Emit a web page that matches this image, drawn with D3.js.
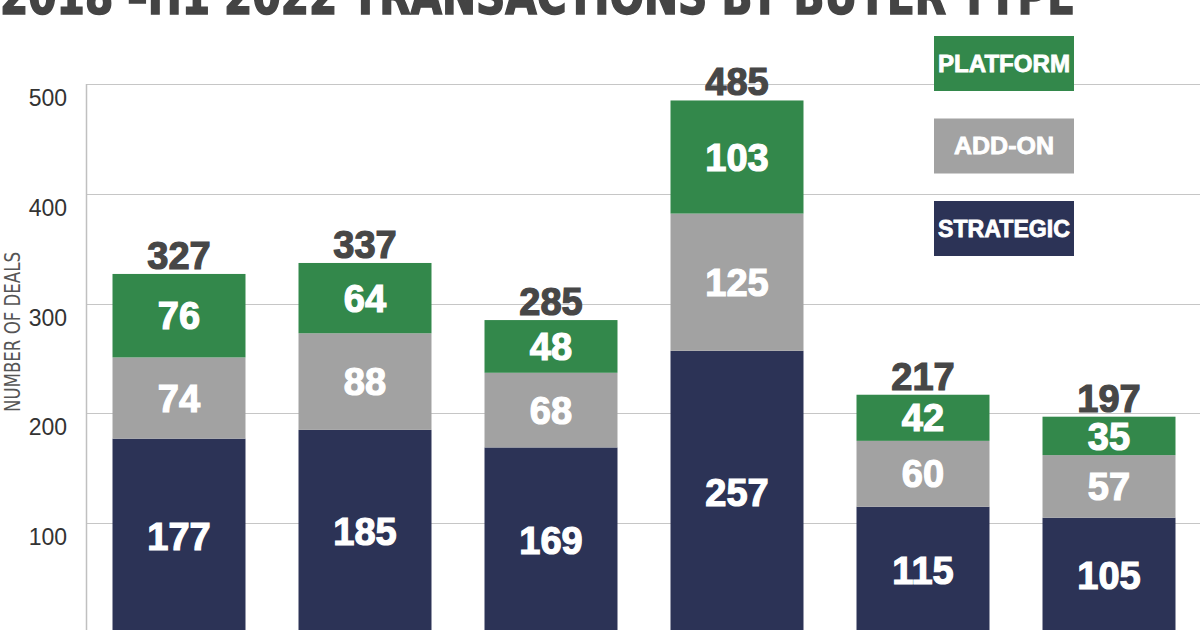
<!DOCTYPE html>
<html>
<head>
<meta charset="utf-8">
<script src="https://cdn.jsdelivr.net/npm/d3@7"></script>
<style>
  html, body { margin: 0; padding: 0; background: #ffffff; }
  svg { display: block; }
</style>
</head>
<body>
<svg id="chart" width="1200" height="630"></svg>
<script>
// ---- Data ----
const categories = ["2018", "2019", "2020", "2021", "H1 2021", "H1 2022"];
const strategic = [177, 185, 169, 257, 115, 105];
const addOn = [74, 88, 68, 125, 60, 57];
const platform = [76, 64, 48, 103, 42, 35];
const totals = [327, 337, 285, 485, 217, 197];
const seriesNames = ["STRATEGIC", "ADD-ON", "PLATFORM"];
const legendOrder = ["PLATFORM", "ADD-ON", "STRATEGIC"];
const yTicks = [100, 200, 300, 400, 500];
const titleText = "2018 \u2013H1 2022 TRANSACTIONS BY BUYER TYPE";
const yAxisTitle = "NUMBER OF DEALS";

const colors = { "STRATEGIC": "#2c3356", "ADD-ON": "#a2a2a2", "PLATFORM": "#33884b" };

const svg = d3.select("#chart");

const x = d3.scaleBand().domain(categories).range([86, 1202]).paddingInner(0.285).paddingOuter(0.1425);
const y = d3.scaleLinear().domain([0, 500]).range([633, 84]);

// title (cut off at top, as in the source image)
svg.append("text")
  .attr("x", 0).attr("y", 14)
  .attr("textLength", 1075).attr("lengthAdjust", "spacingAndGlyphs")
  .style("font-family", "'Liberation Sans Narrow', 'DejaVu Sans Condensed', sans-serif")
  .style("font-weight", "bold").style("font-size", "52px").style("fill", "#444")
  .style("stroke", "#444").style("stroke-width", "1.5px")
  .text(titleText);

// gridlines
svg.append("g").selectAll("line").data(yTicks).join("line")
  .attr("x1", 86).attr("x2", 1200)
  .attr("y1", d => Math.round(y(d)) + 0.5).attr("y2", d => Math.round(y(d)) + 0.5)
  .attr("stroke", "#c6c6c6").attr("stroke-width", 1.2);

// y axis line
svg.append("line").attr("x1", 86.5).attr("x2", 86.5)
  .attr("y1", y(500)).attr("y2", 630)
  .attr("stroke", "#c0c0c0").attr("stroke-width", 1.5);

// tick labels
svg.append("g").selectAll("text").data(yTicks).join("text")
  .attr("x", 67).attr("y", d => y(d) + 22)
  .attr("text-anchor", "end")
  .style("font-family", "'Liberation Sans', Arial, sans-serif")
  .style("font-size", "23px").style("fill", "#333")
  .text(d => d);

// y axis title
svg.append("text")
  .attr("transform", "translate(20,332) rotate(-90)")
  .attr("text-anchor", "middle")
  .attr("textLength", 160).attr("lengthAdjust", "spacingAndGlyphs")
  .style("font-family", "'Liberation Sans Narrow', 'DejaVu Sans Condensed', sans-serif")
  .style("font-size", "22px").style("fill", "#555")
  .text(yAxisTitle);

// stack
const rows = categories.map((c, i) => ({ cat: c, "STRATEGIC": strategic[i], "ADD-ON": addOn[i], "PLATFORM": platform[i], total: totals[i] }));
const stacked = d3.stack().keys(seriesNames)(rows);

const gBars = svg.append("g");
stacked.forEach(layer => {
  gBars.append("g").selectAll("rect").data(layer).join("rect")
    .attr("x", d => x(d.data.cat))
    .attr("width", x.bandwidth())
    .attr("y", d => y(d[1]))
    .attr("height", d => y(d[0]) - y(d[1]))
    .attr("fill", colors[layer.key]);
});

// segment labels
stacked.forEach(layer => {
  gBars.append("g").selectAll("text").data(layer).join("text")
    .attr("x", d => x(d.data.cat) + x.bandwidth() / 2)
    .attr("y", d => (y(d[0]) + y(d[1])) / 2)
    .attr("dy", "0.36em")
    .attr("text-anchor", "middle")
    .style("font-family", "'Liberation Sans', Arial, sans-serif")
    .style("font-weight", "bold").style("font-size", "38px").style("fill", "#ffffff")
    .style("stroke", "#ffffff").style("stroke-width", "1.2px")
    .text(d => d.data[layer.key]);
});

// totals
svg.append("g").selectAll("text").data(rows).join("text")
  .attr("x", d => x(d.cat) + x.bandwidth() / 2)
  .attr("y", d => y(d.total) - 5)
  .attr("text-anchor", "middle")
  .style("font-family", "'Liberation Sans', Arial, sans-serif")
  .style("font-weight", "bold").style("font-size", "38px").style("fill", "#474747")
  .style("stroke", "#474747").style("stroke-width", "1.2px")
  .text(d => d.total);

// legend
const lg = svg.append("g").selectAll("g").data(legendOrder).join("g")
  .attr("transform", (d, i) => `translate(934,${36 + i * 82.5})`);
lg.append("rect").attr("width", 140).attr("height", 55).attr("fill", d => colors[d]);
lg.append("text")
  .attr("x", 70).attr("y", 27.5).attr("dy", "0.36em")
  .attr("text-anchor", "middle")
  .attr("textLength", d => d === "ADD-ON" ? 100 : 132)
  .attr("lengthAdjust", "spacingAndGlyphs")
  .style("font-family", "'Liberation Sans', Arial, sans-serif")
  .style("font-weight", "bold").style("font-size", "23px").style("fill", "#ffffff")
  .style("stroke", "#ffffff").style("stroke-width", "0.8px")
  .text(d => d);
</script>
</body>
</html>
